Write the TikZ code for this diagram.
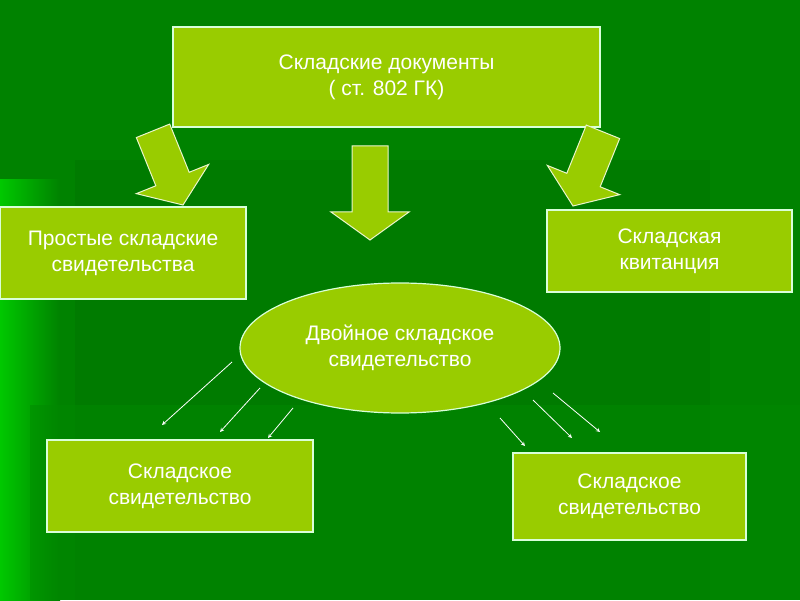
\documentclass[tikz,border=0pt]{standalone}
\usepackage{fontspec}
\setmainfont{Liberation Sans}
\usetikzlibrary{shapes.geometric}
\begin{document}
\begin{tikzpicture}[x=1pt,y=1pt,
  box/.style={draw=white!85!green, line width=1.2pt, fill=lime1, text=white, font=\fontsize{21}{26}\selectfont, align=center, inner sep=0pt},
  bigarr/.style={draw=white!80!lime1, line width=1pt, fill=lime1},
  thin/.style={draw=white, line width=0.8pt, -stealth}]
\definecolor{lime1}{RGB}{153,204,0}
\definecolor{bgd}{RGB}{0,130,0}
\definecolor{bgl}{RGB}{0,200,0}
\useasboundingbox (0,0) rectangle (800,600);
\fill[bgd] (0,0) rectangle (800,600);
\shade[left color=bgl, right color=bgd] (0,0) rectangle (60,420);
\fill[black!10!bgd, opacity=0.5] (75,0) rectangle (710,440);
\fill[bgd!90!bgl, opacity=0.5] (30,0) rectangle (800,195);
\node[box, minimum width=427, minimum height=100] (top) at (386.5,523) {Складские документы\\( ст. 802 ГК)};
\node[box, minimum width=246, minimum height=92] (l) at (123,347) {Простые складские\\свидетельства};
\node[box, minimum width=245, minimum height=82] (r) at (669.5,349) {Складская\\квитанция};
\node[box, ellipse, minimum width=320, minimum height=130] (e) at (400,252) {Двойное складское\\свидетельство};
\node[box, minimum width=266, minimum height=92] (bl) at (180,114) {Складское\\свидетельство};
\node[box, minimum width=233, minimum height=87] (br) at (629.5,103.5) {Складское\\свидетельство};
\foreach \n/\x/\y/\a/\s in {a1/183/395/-68/52, a2/370/360/-90/66, a3/573/394/-112/52}{
  \begin{scope}[shift={(\x,\y)}, rotate=\a]
    \draw[bigarr] (0,0) -- (-28,39) -- (-28,18) -- (-28-\s,18) -- (-28-\s,-18) -- (-28,-18) -- (-28,-39) -- cycle;
  \end{scope}}
\coordinate (s1) at (232,238); \coordinate (t1) at (162,175);
\coordinate (s2) at (260,212); \coordinate (t2) at (220,168);
\coordinate (s3) at (293,192); \coordinate (t3) at (268,162);
\coordinate (s4) at (500,182); \coordinate (t4) at (525,154);
\coordinate (s5) at (533,200); \coordinate (t5) at (572,162);
\coordinate (s6) at (553,207); \coordinate (t6) at (600,168);
\foreach \i in {1,...,6}{\draw[thin] (s\i) -- (t\i);}
\end{tikzpicture}
\end{document}
